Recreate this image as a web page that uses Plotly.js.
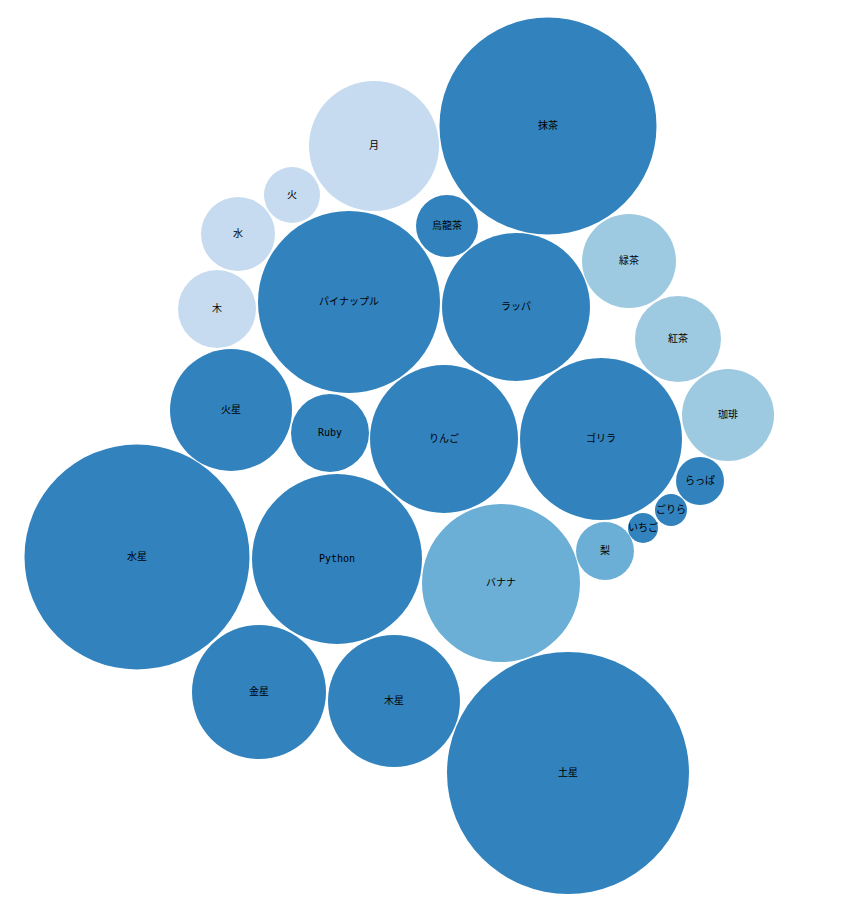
<!DOCTYPE html>
<html><head><meta charset="utf-8">
<script src="https://cdn.plot.ly/plotly-3.0.1.min.js"></script>
<style>html,body{margin:0;padding:0;background:#fff}#chart{width:843px;height:917px}</style>
</head><body><div id="chart"></div>
<script>
const names = ["抹茶","月","火","水","木","烏龍茶","パイナップル","ラッパ","緑茶","紅茶","珈琲","火星","Ruby","りんご","ゴリラ","らっぱ","ごりら","いちご","梨","水星","Python","バナナ","金星","木星","土星"];
const cx = [548,374,292,238,217,447,349,516,629,678,728,231,330,444,601,700,671,643,605,137,337,501,259,394,568];
const cy = [126,146,195,234,309,226,302,307,261,339,415,410,433,439,439,481,510,528,551,557,559,583,692,701,773];
const radius = [108.5,65,28,37,39,31,91,74,47,43,46,61,39,74,81,24,16,15,29,112.5,85,79,67,66,121];
const group = [0,3,3,3,3,0,0,0,2,2,2,0,0,0,0,0,0,0,1,0,0,1,0,0,0];
const palette = ["#3182bd","#6baed6","#9ecae1","#c6dbef"];

const shapes = names.map((n,i)=>({
  type:"circle", xref:"x", yref:"y",
  x0:cx[i]-radius[i], x1:cx[i]+radius[i], y0:cy[i]-radius[i], y1:cy[i]+radius[i],
  fillcolor:palette[group[i]], line:{width:0}, layer:"below"
}));

const trace = {
  type:"scatter", mode:"text", x:cx, y:cy, text:names,
  textposition:"middle center",
  textfont:{family:"DejaVu Sans Mono, Noto Sans CJK JP, monospace", size:10, color:"#000"},
  hoverinfo:"text", showlegend:false
};

Plotly.newPlot("chart",[trace],{
  width:843,height:917,margin:{l:0,r:0,t:0,b:0},
  paper_bgcolor:"#fff",plot_bgcolor:"#fff",
  xaxis:{range:[0,843],visible:false,fixedrange:true},
  yaxis:{range:[917,0],visible:false,fixedrange:true},
  shapes:shapes, showlegend:false
},{displayModeBar:false,staticPlot:true});
</script></body></html>
